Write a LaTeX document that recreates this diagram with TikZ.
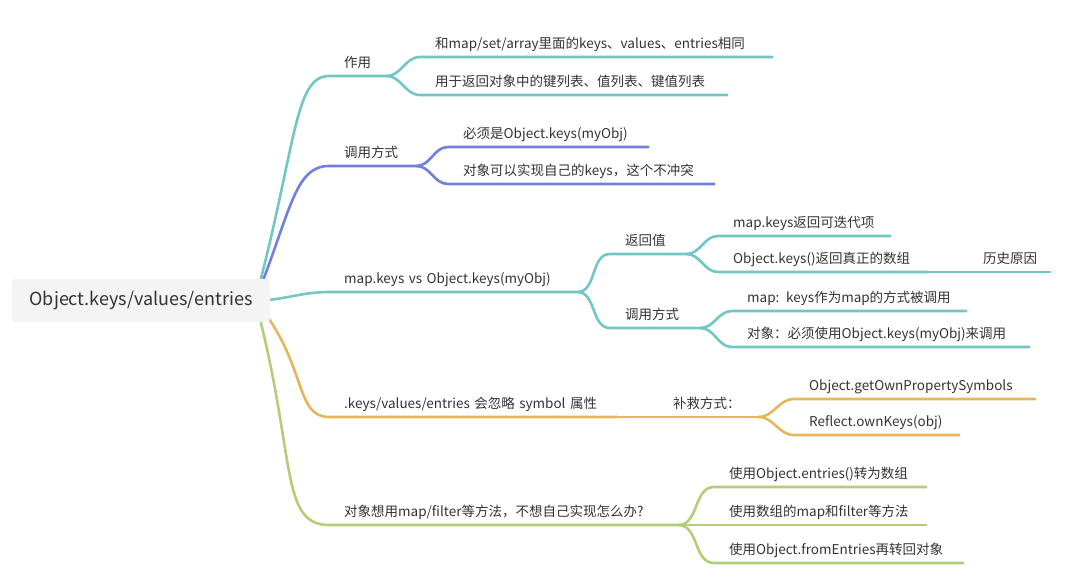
\documentclass[tikz,border=0pt]{standalone}
\usepackage{fontspec}
\setmainfont{Noto Sans CJK SC}
\usetikzlibrary{calc,backgrounds}

\definecolor{tealc}{RGB}{115,198,198}
\definecolor{bluec}{RGB}{112,128,222}
\definecolor{orangec}{RGB}{229,183,90}
\definecolor{greenc}{RGB}{181,204,120}
\definecolor{rootgray}{RGB}{244,244,244}
\definecolor{txt}{RGB}{51,51,51}

\begin{document}
\begin{tikzpicture}[x=1pt,y=1pt,
	root/.style={fill=rootgray, rounded corners=3pt, minimum width=258pt, minimum height=43pt, inner sep=0pt, text=txt, font=\fontsize{18}{20}\selectfont},
	topic/.style={anchor=south west, inner xsep=0pt, inner ysep=5pt, text height=10pt, text depth=3pt, align=left, text=txt, font=\fontsize{13.5}{16}\selectfont, execute at begin node=\hspace*{15pt}},
	branch/.style={line width=2.6pt, line cap=round}]
	\useasboundingbox (0,0) rectangle (1089,-577);
	% root
	\node[root] (root) at (141,-300.5) {Object.keys/values/entries};
	\coordinate (hub) at ($(root.east)+(-15,0)$);
	% first level
	\node[topic, text width=57pt] (zy) at (329,-76) {作用};
	\node[topic, text width=87pt] (dy) at (329,-166) {调用方式};
	\node[topic, text width=248pt] (mk) at (329,-292) {map.keys vs Object.keys(myObj)};
	\node[topic, text width=288pt] (sym) at (329,-417) {.keys/values/entries 会忽略 symbol 属性};
	\node[topic, text width=349pt] (fil) at (329,-525) {对象想用map/filter等方法，不想自己实现怎么办?};
	% 作用
	\node[topic, text width=352pt] (a1) at (420,-57) {和map/set/array里面的keys、values、entries相同};
	\node[topic, text width=307pt] (a2) at (420,-95) {用于返回对象中的键列表、值列表、键值列表};
	% 调用方式
	\node[topic, text width=200pt] (b1) at (448,-147) {必须是Object.keys(myObj)};
	\node[topic, text width=266pt] (b2) at (448,-184) {对象可以实现自己的keys，这个不冲突};
	% map.keys vs Object.keys
	\node[topic, text width=76pt] (c1) at (610,-254) {返回值};
	\node[topic, text width=90pt] (c2) at (610,-328) {调用方式};
	\node[topic, text width=172pt] (d1) at (718,-236) {map.keys返回可迭代项};
	\node[topic, text width=210pt] (d2) at (718,-272) {Object.keys()返回真正的数组};
	\node[topic, text width=82pt] (e1) at (968,-272) {历史原因};
	\node[topic, text width=234pt] (d3) at (732,-311) {map: keys作为map的方式被调用};
	\node[topic, text width=297pt] (d4) at (732,-347) {对象：必须使用Object.keys(myObj)来调用};
	% symbol
	\node[topic, text width=100pt] (s1) at (658,-417) {补救方式：};
	\node[topic, text width=241pt] (t1) at (794,-399) {Object.getOwnPropertySymbols};
	\node[topic, text width=165pt] (t2) at (794,-435) {Reflect.ownKeys(obj)};
	% map/filter
	\node[topic, text width=212pt] (f1) at (714,-487) {使用Object.entries()转为数组};
	\node[topic, text width=212pt] (f2) at (714,-525) {使用数组的map和filter等方法};
	\node[topic, text width=249pt] (f3) at (714,-563) {使用Object.fromEntries再转回对象};

	\begin{scope}[on background layer]
		% root branches
		\draw[branch, tealc] (hub) to[out=75, in=180, out distance=160pt, in distance=35pt] (zy.south west) -- (zy.south east);
		\draw[branch, bluec] (hub) to[out=68, in=180, out distance=94pt, in distance=35pt] (dy.south west) -- (dy.south east);
		\draw[branch, tealc] (hub) to[out=0, in=180] (mk.south west) -- (mk.south east);
		\draw[branch, orangec] (hub) to[out=-50, in=180, out distance=82pt, in distance=35pt] (sym.south west) -- (sym.south east);
		\draw[branch, greenc] (hub) to[out=-75, in=180, out distance=160pt, in distance=50pt] (fil.south west) -- (fil.south east);
		% children
		\draw[branch, tealc] (zy.south east) to[out=0, in=180] (a1.south west) -- (a1.south east);
		\draw[branch, tealc] (zy.south east) to[out=0, in=180] (a2.south west) -- (a2.south east);
		\draw[branch, bluec] (dy.south east) to[out=0, in=180] (b1.south west) -- (b1.south east);
		\draw[branch, bluec] (dy.south east) to[out=0, in=180] (b2.south west) -- (b2.south east);
		\draw[branch, tealc] (mk.south east) to[out=0, in=180] (c1.south west) -- (c1.south east);
		\draw[branch, tealc] (mk.south east) to[out=0, in=180] (c2.south west) -- (c2.south east);
		\draw[branch, tealc] (c1.south east) to[out=0, in=180] (d1.south west) -- (d1.south east);
		\draw[branch, tealc] (c1.south east) to[out=0, in=180] (d2.south west) -- (d2.south east);
		\draw[branch, tealc] (d2.south east) -- (e1.south west) -- (e1.south east);
		\draw[branch, tealc] (c2.south east) to[out=0, in=180] (d3.south west) -- (d3.south east);
		\draw[branch, tealc] (c2.south east) to[out=0, in=180] (d4.south west) -- (d4.south east);
		\draw[branch, orangec] (sym.south east) -- (s1.south west) -- (s1.south east);
		\draw[branch, orangec] (s1.south east) to[out=0, in=180] (t1.south west) -- (t1.south east);
		\draw[branch, orangec] (s1.south east) to[out=0, in=180] (t2.south west) -- (t2.south east);
		\draw[branch, greenc] (fil.south east) to[out=0, in=180] (f1.south west) -- (f1.south east);
		\draw[branch, greenc] (fil.south east) -- (f2.south west) -- (f2.south east);
		\draw[branch, greenc] (fil.south east) to[out=0, in=180] (f3.south west) -- (f3.south east);
	\end{scope}
\end{tikzpicture}
\end{document}
